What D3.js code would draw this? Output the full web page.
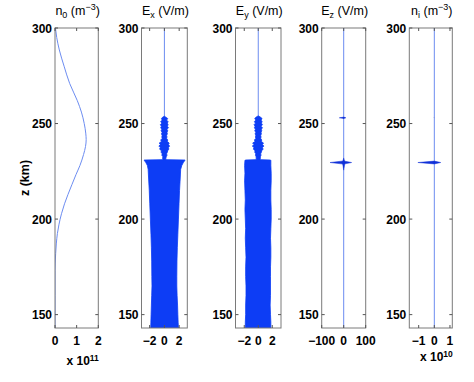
<!DOCTYPE html>
<html><head><meta charset="utf-8">
<script src="https://cdn.jsdelivr.net/npm/d3@7"></script>
<style>
body{margin:0;background:#fff;}
text{font-family:"Liberation Sans",Arial,Helvetica,sans-serif;fill:#000;}
</style></head>
<body><svg id="c" width="474" height="382"></svg>
<script>
// ---------- data ----------
const zTicks = [150, 200, 250, 300];
const zDomain = [143, 300];

// panel 1: background density n0 (units of 1e11 m^-3)
const n0Z      = [300, 295, 288.5, 280, 270.9, 262, 256, 250, 245, 241.6, 238, 233.8, 228, 223.3, 218, 212.9, 208, 202.8, 197, 192.4, 187, 181.9, 177, 173, 160, 143];
const n0Values = [0.02, 0.08, 0.2, 0.42, 0.68, 1.03, 1.22, 1.35, 1.42, 1.44, 1.41, 1.32, 1.15, 0.97, 0.78, 0.6, 0.44, 0.3, 0.18, 0.11, 0.06, 0.03, 0.01, 0, 0, 0];
const n0Ticks = [0, 1, 2];

// panel 2: Ex envelope (V/m)
const exZ  = [253.8, 253.3, 252.6, 251.8, 251, 250.2, 249.4, 248.6, 247.8, 247, 246.2, 245.4, 244.6, 243.8, 243, 242.2, 241.4, 240.6, 239.8, 239, 238.2, 237.4, 236.6, 235.8, 235, 234.2, 233.4, 232.6, 231.8, 231.1,
              230.9, 230.6, 229.5, 228, 226, 222, 215, 208, 200, 192, 185, 178, 170, 165, 160, 155, 150, 146, 143];
const exLo = [0, -0.25, -0.4, -0.3, -0.5, -0.35, -0.55, -0.4, -0.5, -0.35, -0.45, -0.3, -0.4, -0.3, -0.35, -0.3, -0.5, -0.4, -0.7, -0.55, -0.75, -0.55, -0.65, -0.4, -0.45, -0.3, -0.35, -0.2, -0.25, -0.2,
              -2.75, -2.7, -2.5, -2.3, -2.2, -2.15, -2.05, -1.98, -1.9, -1.82, -1.76, -1.72, -1.7, -1.68, -1.72, -1.76, -1.8, -1.83, -1.85];
const exHi = [0, 0.2, 0.45, 0.3, 0.5, 0.4, 0.5, 0.4, 0.55, 0.35, 0.45, 0.35, 0.4, 0.3, 0.35, 0.3, 0.45, 0.4, 0.65, 0.55, 0.7, 0.55, 0.6, 0.45, 0.4, 0.3, 0.35, 0.25, 0.2, 0.2,
              2.8, 2.75, 2.55, 2.35, 2.2, 2.15, 2.05, 1.98, 1.9, 1.82, 1.75, 1.7, 1.68, 1.68, 1.72, 1.78, 1.82, 1.86, 1.9];
const exTicks = [-2, 0, 2];

// panel 3: Ey envelope (V/m)
const eyZ  = [254, 253.4, 252.6, 251.8, 251, 250.2, 249.4, 248.6, 247.8, 247, 246.2, 245.4, 244.6, 243.8, 243, 242.2, 241.4, 240.6, 239.8, 239, 238.2, 237.4, 236.6, 235.8, 235, 234.2, 233.4, 232.6, 231.8, 231.1,
              230.9, 230.6, 228, 224, 220, 215, 210, 205, 200, 195, 190, 185, 180, 175, 170, 165, 160, 155, 150, 146, 143];
const eyLo = [0, -0.3, -0.5, -0.35, -0.55, -0.4, -0.6, -0.45, -0.55, -0.4, -0.5, -0.35, -0.45, -0.35, -0.4, -0.35, -0.55, -0.45, -0.8, -0.6, -0.85, -0.6, -0.7, -0.45, -0.5, -0.35, -0.4, -0.3, -0.3, -0.3,
              -1.85, -1.9, -1.95, -1.9, -1.95, -1.9, -1.85, -1.9, -1.85, -1.8, -1.85, -1.8, -1.75, -1.8, -1.8, -1.75, -1.75, -1.8, -1.8, -1.85, -1.85];
const eyHi = [0, 0.3, 0.55, 0.4, 0.55, 0.45, 0.6, 0.4, 0.6, 0.45, 0.5, 0.4, 0.45, 0.35, 0.4, 0.35, 0.5, 0.45, 0.75, 0.6, 0.8, 0.6, 0.7, 0.5, 0.45, 0.35, 0.4, 0.3, 0.3, 0.3,
              1.75, 1.8, 1.8, 1.85, 1.85, 1.8, 1.8, 1.85, 1.85, 1.8, 1.75, 1.8, 1.8, 1.75, 1.75, 1.75, 1.75, 1.7, 1.75, 1.8, 1.8];
const eyTicks = [-2, 0, 2];

// panel 4: Ez spikes (V/m)
const ezSpikeZ    = [253, 229.6];
const ezSpikeLo   = [-20, -62];
const ezSpikeHi   = [10, 36];
const ezSpikeZLo  = [252.6, 225.6];
const ezSpikeZHi  = [253.4, 232];
const ezTicks = [-100, 0, 100];

// panel 5: ion density perturbation (units of 1e10 m^-3)
const niSpikeZ  = [253, 229.6];
const niSpikeLo = [-0.06, -1.05];
const niSpikeHi = [0.03, 0.41];
const niTicks = [-1, 0, 1];

// ---------- drawing ----------
const svg = d3.select("#c");
const plotTop = 28, plotBottom = 328;
const y = d3.scaleLinear().domain(zDomain).range([plotBottom, plotTop]);
const fillBlue = "#0d3df5", lineBlue = "#6c8cf0", darkBlue = "#1030d8";
const tickFont = 12, tickWeight = "bold";

const panels = [
  {x0:55,    x1:98.3,  dom:[0,2],       ticks:n0Ticks, title:["n","0","m","-3"]},
  {x0:141.5, x1:187.3, dom:[-3.1,3.1],  ticks:exTicks, title:["E","x","V/m",null]},
  {x0:235.5, x1:281,   dom:[-3.25,3.25],ticks:eyTicks, title:["E","y","V/m",null]},
  {x0:321.7, x1:365.7, dom:[-100,100],  ticks:ezTicks, title:["E","z","V/m",null]},
  {x0:409.3, x1:452.3, dom:[-1.6,1.15], ticks:niTicks, title:["n","i","m","-3"]}
];
const fmt = d => (d < 0 ? "\u2212" + Math.abs(d) : "" + d);

panels.forEach((p, i) => {
  p.x = d3.scaleLinear().domain(p.dom).range([p.x0, p.x1]);
  const g = svg.append("g");
  p.g = g;
  const cid = "clip" + i;
  svg.append("clipPath").attr("id", cid).append("rect")
    .attr("x", p.x0).attr("y", plotTop).attr("width", p.x1 - p.x0).attr("height", plotBottom - plotTop);
  p.plot = g.append("g").attr("clip-path", `url(#${cid})`);
});

// panel 1 curve
{
  const p = panels[0];
  const pts = n0Z.map((z, i) => ({z, v: n0Values[i]}));
  p.plot.append("path").datum(pts)
    .attr("d", d3.line().x(d => p.x(d.v)).y(d => y(d.z)).curve(d3.curveMonotoneY))
    .attr("fill", "none").attr("stroke", lineBlue).attr("stroke-width", 1);
}
// zero lines panels 2-5
panels.slice(1).forEach(p => {
  p.plot.append("line").attr("x1", p.x(0)).attr("x2", p.x(0))
    .attr("y1", y(zDomain[1])).attr("y2", y(zDomain[0]))
    .attr("stroke", lineBlue).attr("stroke-width", 1);
});
// envelopes Ex, Ey
function env(p, Z, Lo, Hi) {
  const pts = Z.map((z, i) => ({z, lo: Lo[i], hi: Hi[i]}));
  p.plot.append("path").datum(pts)
    .attr("d", d3.area().y(d => y(d.z)).x0(d => p.x(d.lo)).x1(d => p.x(d.hi)))
    .attr("fill", fillBlue).attr("stroke", fillBlue).attr("stroke-width", 0.8).attr("stroke-linejoin", "round");
}
env(panels[1], exZ, exLo, exHi);
env(panels[2], eyZ, eyLo, eyHi);

// Ez spikes
{
  const p = panels[3];
  ezSpikeZ.forEach((z, i) => {
    const cx = p.x(0), cy = y(z);
    const big = i === 1;
    const th = big ? 1.6 : 0.7;
    p.plot.append("path").attr("d",
      `M${p.x(ezSpikeLo[i])},${cy} L${cx},${cy - th} L${p.x(ezSpikeHi[i])},${cy} L${cx},${cy + th} Z`)
      .attr("fill", darkBlue).attr("stroke", darkBlue).attr("stroke-width", 0.5);
    const tw = big ? 1.3 : 0.6;
    p.plot.append("path").attr("d",
      `M${cx},${y(ezSpikeZHi[i])} L${cx + tw},${cy} L${cx},${y(ezSpikeZLo[i])} L${cx - tw},${cy} Z`)
      .attr("fill", darkBlue).attr("stroke", darkBlue).attr("stroke-width", 0.4);
  });
}
// ni spikes
{
  const p = panels[4];
  niSpikeZ.forEach((z, i) => {
    const cx = p.x(0), cy = y(z);
    const th = i === 1 ? 1.4 : 0.5;
    p.plot.append("path").attr("d",
      `M${p.x(niSpikeLo[i])},${cy} L${cx},${cy - th} L${p.x(niSpikeHi[i])},${cy} L${cx},${cy + th} Z`)
      .attr("fill", i === 1 ? darkBlue : "#8090d0").attr("stroke", i === 1 ? darkBlue : "none").attr("stroke-width", 0.5);
  });
}

// frames, ticks, labels
panels.forEach(p => {
  const g = p.g;
  const fr = "#7a7a7a";
  g.append("rect").attr("x", p.x0).attr("y", plotTop).attr("width", p.x1 - p.x0).attr("height", plotBottom - plotTop)
    .attr("fill", "none").attr("stroke", fr).attr("stroke-width", 1);
  zTicks.forEach(t => {
    const yy = y(t);
    g.append("line").attr("x1", p.x0).attr("x2", p.x0 + 3).attr("y1", yy).attr("y2", yy).attr("stroke", "#555");
    g.append("line").attr("x1", p.x1 - 3).attr("x2", p.x1).attr("y1", yy).attr("y2", yy).attr("stroke", "#555");
    g.append("text").attr("x", p.x0 - 3).attr("y", yy + 4.5).attr("text-anchor", "end")
      .attr("font-size", tickFont).attr("font-weight", tickWeight).text(t);
  });
  p.ticks.forEach(t => {
    const xx = p.x(t);
    g.append("line").attr("x1", xx).attr("x2", xx).attr("y1", plotBottom).attr("y2", plotBottom - 3).attr("stroke", "#555");
    g.append("line").attr("x1", xx).attr("x2", xx).attr("y1", plotTop).attr("y2", plotTop + 3).attr("stroke", "#555");
    g.append("text").attr("x", xx).attr("y", 345).attr("text-anchor", "middle")
      .attr("font-size", tickFont).attr("font-weight", tickWeight).text(fmt(t));
  });
  const [a, sub, unit, sup] = p.title;
  const tt = g.append("text").attr("x", (p.x0 + p.x1) / 2 + 1).attr("y", 15).attr("text-anchor", "middle")
    .attr("font-size", 12.5);
  tt.append("tspan").text(a);
  tt.append("tspan").attr("font-size", 9).attr("dy", 3).text(sub);
  tt.append("tspan").attr("dy", -3).text(" (" + unit);
  if (sup) {
    tt.append("tspan").attr("font-size", 9).attr("dy", -5).text("\u2212" + sup.slice(1));
    tt.append("tspan").attr("dy", 5).text(")");
  } else {
    tt.append("tspan").text(")");
  }
});

svg.append("text").attr("transform", "translate(29,178) rotate(-90)").attr("text-anchor", "middle")
  .attr("font-size", 12.5).attr("font-weight", "bold").text("z (km)");

function mult(x, yb, exp) {
  const t = svg.append("text").attr("x", x).attr("y", yb).attr("font-size", 12).attr("font-weight", "bold");
  t.append("tspan").text("x 10");
  t.append("tspan").attr("font-size", 8.5).attr("dy", -4.5).text(exp);
}
mult(66.5, 365, "11");
mult(420, 361, "10");
</script></body></html>
